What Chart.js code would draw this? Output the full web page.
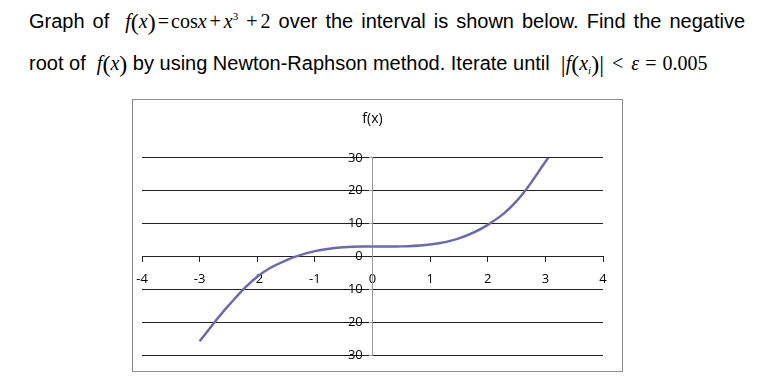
<!DOCTYPE html>
<html>
<head>
<meta charset="utf-8">
<script src="https://cdn.jsdelivr.net/npm/chart.js@4/dist/chart.umd.min.js"></script>
<style>
  body { margin: 0; background: #fff; width: 771px; height: 378px; overflow: hidden; position: relative; }
  .line { position: absolute; left: 29px; font-family: "Liberation Sans", Arial, sans-serif; font-size: 20px; color: #000; white-space: nowrap; line-height: 22px; }
  .just { width: 716px; text-align: justify; text-align-last: justify; white-space: normal; }
  .m { font-family: "Liberation Serif", "Times New Roman", serif; font-size: 20px; }
  .i { font-style: italic; }
  .p { font-size: 24px; font-weight: 300; vertical-align: -2px; }
  .o { margin: 0 3px; }
  sup { font-size: 11px; vertical-align: 8px; line-height: 0; }
  sub { font-size: 11px; vertical-align: -4px; line-height: 0; }
  #box { position: absolute; left: 132px; top: 99px; width: 489px; height: 271px; border: 1px solid #8c8c8c; }
</style>
</head>
<body>
<div class="line just" style="top:10px">Graph of&nbsp; <span class="m"><span class="i">f</span><span class="p">(</span><span class="i">x</span><span class="p">)</span><span class="o" style="margin:0 2px">=</span>cos<span class="i">x</span><span class="o">+</span><span class="i">x</span><sup>3</sup><span class="o" style="margin-left:8px">+</span>2</span> over the interval is shown below. Find the negative</div>
<div class="line" style="top:52px">root of&nbsp; <span class="m"><span class="i">f</span><span class="p">(</span><span class="i">x</span><span class="p">)</span></span> by using Newton-Raphson method. Iterate until&nbsp; <span class="m"><span class="p">|</span><span class="i">f</span><span class="p">(</span><span class="i">x</span><sub class="i">i</sub><span class="p">)</span><span class="p">|</span><span class="o" style="margin:0 8px">&lt;</span><span class="i">ε</span><span class="o" style="margin:0 6px">=</span>0.005</span></div>
<div id="box"><canvas id="chart" width="489" height="271"></canvas></div>
<script>
// values
const xValues = [-3, -2.5, -2, -1.5, -1, -0.5, 0, 0.5, 1, 1.5, 2, 2.5, 3.05];
const fValues = [-25.8, -15, -6.2, -1.2, 1.6, 2.8, 3, 3.05, 3.6, 5.5, 9.6, 16.8, 30];
const xTicks = [-4, -3, -2, -1, 0, 1, 2, 3, 4];
const yTicks = [-30, -20, -10, 0, 10, 20, 30];

const points = xValues.map((x, i) => ({ x: x, y: fValues[i] }));
const tickFont = { family: "'Open Sans', sans-serif", size: 13 };

new Chart(document.getElementById('chart'), {
    type: 'line',
    data: {
        datasets: [{
            label: 'f(x)',
            data: points,
            borderColor: '#6b6ba8',
            borderWidth: 2.5,
            pointRadius: 0,
            tension: 0.4,
            fill: false
        }]
    },
    options: {
        responsive: false,
        animation: false,
        layout: { padding: { left: 9, right: 19, top: 0, bottom: 16 } },
        plugins: {
            legend: { display: false },
            tooltip: { enabled: false },
            title: {
                display: true,
                text: 'f(x)',
                color: '#000',
                font: { family: "'Open Sans', sans-serif", size: 14, weight: 'normal' },
                padding: { top: 11, bottom: 30 }
            }
        },
        scales: {
            x: {
                type: 'linear',
                position: { y: 0 },
                min: -4,
                max: 4,
                afterBuildTicks: axis => { axis.ticks = xTicks.map(v => ({ value: v })); },
                // keep the label padding from widening the side margins
                afterFit: axis => { axis.paddingLeft = 0; axis.paddingRight = 0; },
                grid: { drawOnChartArea: false, drawTicks: true, tickLength: 5, color: '#222' },
                border: { color: '#222', width: 1 },
                ticks: { color: '#000', font: tickFont, padding: 10, maxRotation: 0 }
            },
            y: {
                type: 'linear',
                position: { x: 0 },
                min: -30,
                max: 30,
                afterBuildTicks: axis => { axis.ticks = yTicks.map(v => ({ value: v })); },
                grid: { color: '#222', tickColor: '#999', tickLength: 3 },
                border: { color: '#999', width: 1 },
                // labels sit right-aligned on the axis; trailing spaces push them left
                ticks: { color: '#000', font: tickFont, callback: v => v + '\u2002\u2005' }
            }
        }
    }
});
</script>
</body>
</html>
